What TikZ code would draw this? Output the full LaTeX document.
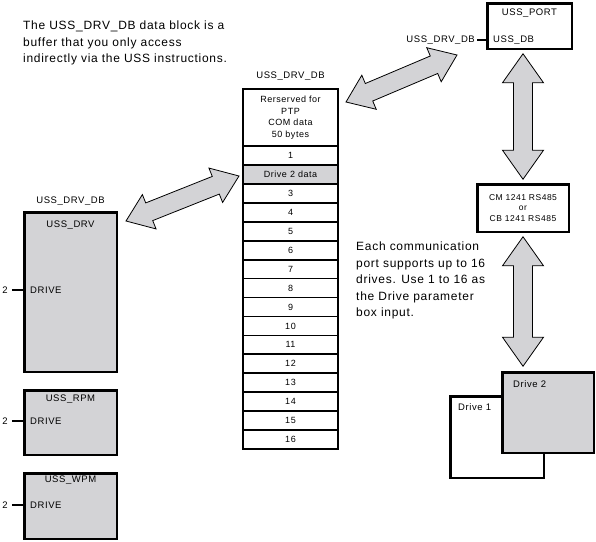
\documentclass[tikz,border=0pt]{standalone}
\usepackage{fontspec}
\setmainfont[LetterSpace=6]{Liberation Sans}
\usetikzlibrary{calc, positioning}

\definecolor{boxgray}{RGB}{211,211,214}

% #1 half head, #2 half shaft, #3 head length, #4 from, #5 to
\newcommand{\blockarrow}[5]{%
  \coordinate (ba-s) at ($(#4)!#3!(#5)$);
  \coordinate (ba-e) at ($(#5)!#3!(#4)$);
  \draw[barrow] (#4) -- ($(ba-s)!#1!90:(#5)$) -- ($(ba-s)!#2!90:(#5)$)
    -- ($(ba-e)!#2!-90:(#4)$) -- ($(ba-e)!#1!-90:(#4)$) -- (#5)
    -- ($(ba-e)!#1!90:(#4)$) -- ($(ba-e)!#2!90:(#4)$)
    -- ($(ba-s)!#2!-90:(#5)$) -- ($(ba-s)!#1!-90:(#5)$) -- cycle;}

\begin{document}
\begin{tikzpicture}[x=1pt, y=-1pt, node distance=4pt,
  lbl/.style={inner sep=0pt, font=\fontsize{9.5}{11}\selectfont},
  note/.style={inner sep=0pt, align=left, font=\fontsize{12}{16.5}\selectfont},
  fblock/.style={draw, line width=2.5pt, fill=boxgray, minimum width=92.5pt, outer sep=0pt},
  hw/.style={draw, line width=2.5pt, inner sep=0pt, outer sep=0pt},
  cell/.style={draw, line width=1.8pt, minimum width=95pt, minimum height=18.94pt,
    inner sep=0pt, outer sep=0pt, font=\fontsize{9}{11}\selectfont},
  pin/.style={line width=2pt, shorten <=4pt},
  barrow/.style={draw, line width=0.8pt, fill=boxgray}]

\useasboundingbox (0,0) rectangle (596,541);

\node[note, anchor=north west] (note1) at (23,21)
  {The USS\_DRV\_DB data block is a\\buffer that you only access\\indirectly via the USS instructions.};
\node[note, anchor=north west] (note2) at (356,242)
  {Each communication\\port supports up to 16\\drives. Use 1 to 16 as\\the Drive parameter\\box input.};

% data block
\node[cell, minimum height=57pt, anchor=north west, align=center,
  font=\fontsize{9}{11.5}\selectfont] (db0) at (243,89) {Rerserved for\\PTP\\COM data\\50 bytes};
\node[lbl, above=8pt of db0] (db-title) {USS\_DRV\_DB};
\node[cell, below=0pt of db0] (db1) {1};
\node[cell, fill=boxgray, below=0pt of db1] (db2) {Drive 2 data};
\foreach \i [count=\j from 2] in {3,...,16}
  \node[cell, below=0pt of db\j] (db\i) {\i};

% instructions
\node[fblock, minimum height=159.5pt] (drv) at (70.5,292) {};
\node[fblock, minimum height=64.5pt] (rpm) at (70.5,422.5) {};
\node[fblock, minimum height=65.5pt] (wpm) at (70.5,506) {};

\node[lbl, above=7pt of drv] (drv-db) {USS\_DRV\_DB};
\node[lbl, below=8pt of drv.north] (drv-name) {USS\_DRV};
\node[lbl, below=4.5pt of rpm.north] (rpm-name) {USS\_RPM};
\node[lbl, below=2.5pt of wpm.north] (wpm-name) {USS\_WPM};

\node[lbl, anchor=west] (drv-in) at (30,290) {DRIVE};
\node[lbl, anchor=west] (rpm-in) at (30,421) {DRIVE};
\node[lbl, anchor=west] (wpm-in) at (30,505) {DRIVE};
\node[lbl] (drv-no) at (5,290) {2};
\node[lbl] (rpm-no) at (5,421) {2};
\node[lbl] (wpm-no) at (5,505) {2};

\draw[pin] (drv-no) -- (drv.west |- drv-no);
\draw[pin] (rpm-no) -- (rpm.west |- rpm-no);
\draw[pin] (wpm-no) -- (wpm.west |- wpm-no);

% hardware
\node[hw, minimum width=84.5pt, minimum height=45.5pt] (port) at (529.5,26) {};
\node[lbl, below=5pt of port.north] (port-name) {USS\_PORT};
\node[lbl, anchor=west] (port-in) at (493,40) {USS\_DB};
\node[lbl, anchor=east] (port-db) at (475,40) {USS\_DRV\_DB};
\draw[pin, shorten <=2pt] (port-db) -- (port.west |- port-db);

\node[hw, minimum width=91.5pt, minimum height=47.5pt, align=center,
  font=\fontsize{8.5}{10.5}\selectfont] (cm) at (523,208) {CM 1241 RS485\\or\\CB 1241 RS485};

\node[hw, minimum width=93.5pt, minimum height=81.5pt] (drive1) at (497,437) {};
\node[hw, fill=boxgray, minimum width=91.5pt, minimum height=80.5pt] (drive2) at (548,412.5) {};
\node[lbl, anchor=west] (drive1-name) at (458,407) {Drive 1};
\node[lbl, anchor=west] (drive2-name) at (513,384) {Drive 2};

% block arrows
\coordinate (port-end) at ($(cm.north |- port.south)+(0,5)$);
\coordinate (cm-top) at ($(cm.north)+(0,-5)$);
\coordinate (cm-bot) at ($(cm.south)+(0,5)$);
\coordinate (drive-top) at ($(cm.south |- drive2.north)+(0,-6)$);
\coordinate (db-right) at (346,102);
\coordinate (port-left) at (457,55);
\coordinate (drv-right) at (126,221);
\coordinate (db-left) at (239,176);

\blockarrow{20.5pt}{9.5pt}{29pt}{port-end}{cm-top}
\blockarrow{20.5pt}{9.5pt}{29pt}{cm-bot}{drive-top}
\blockarrow{18.5pt}{9.5pt}{25pt}{db-right}{port-left}
\blockarrow{18.5pt}{9.5pt}{25pt}{drv-right}{db-left}
\end{tikzpicture}
\end{document}
